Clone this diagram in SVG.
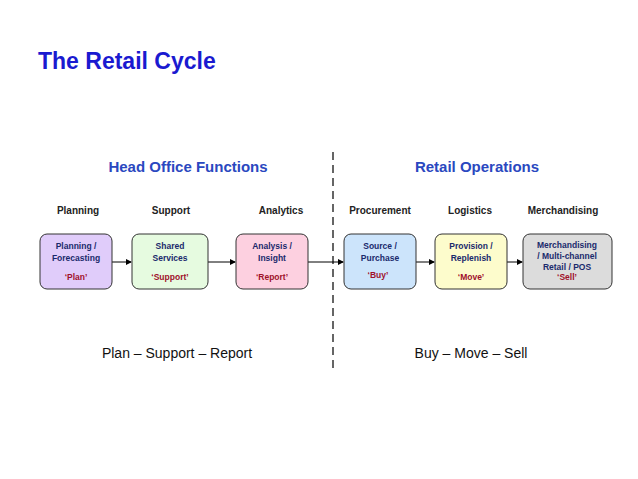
<svg xmlns="http://www.w3.org/2000/svg" width="638" height="479" viewBox="0 0 638 479">
<defs><marker id="a" markerWidth="6" markerHeight="6" refX="5" refY="3" orient="auto"><path d="M0,0 L6,3 L0,6 z" fill="#000"/></marker></defs>
<style>
text{font-family:"Liberation Sans",Arial,sans-serif;text-anchor:middle}
.h{font-size:15px;font-weight:bold;fill:#2a48c0}
.c{font-size:10px;font-weight:bold;fill:#222}
.b{font-size:8.5px;font-weight:bold;fill:#1a2a6c}
.q{font-size:8.5px;font-weight:bold;fill:#a0102a}
.n rect{stroke:#333;stroke-width:1}
.s{font-size:14px;fill:#111}
</style>
<rect width="638" height="479" fill="#fff"/>
<text x="38" y="69" style="text-anchor:start;font-size:23px;font-weight:bold;fill:#1a1ad0">The Retail Cycle</text>
<text class="h" x="188" y="172">Head Office Functions</text>
<text class="h" x="477" y="172">Retail Operations</text>
<text class="c" x="78" y="214">Planning</text>
<text class="c" x="171" y="214">Support</text>
<text class="c" x="281" y="214">Analytics</text>
<text class="c" x="380" y="214">Procurement</text>
<text class="c" x="470" y="214">Logistics</text>
<text class="c" x="563" y="214">Merchandising</text>
<line x1="333" y1="152" x2="333" y2="370" stroke="#333" stroke-width="1.5" stroke-dasharray="8,5"/>
<g id="connectors" stroke="#000" stroke-width="1" marker-end="url(#a)">
<line x1="112" y1="262" x2="131" y2="262"/>
<line x1="208" y1="262" x2="235" y2="262"/>
<line x1="308" y1="262" x2="343" y2="262"/>
<line x1="416" y1="262" x2="434" y2="262"/>
<line x1="507" y1="262" x2="522" y2="262"/>
</g>
<g id="n1" class="n"><rect x="40" y="234" width="72" height="55" rx="7" fill="#e0ccfa"/><text class="b" x="76" y="249">Planning /</text><text class="b" x="76" y="261">Forecasting</text><text class="q" x="76" y="280">‘Plan’</text></g>
<g id="n2" class="n"><rect x="132" y="234" width="76" height="55" rx="7" fill="#e6fbe0"/><text class="b" x="170" y="249">Shared</text><text class="b" x="170" y="261">Services</text><text class="q" x="170" y="280">‘Support’</text></g>
<g id="n3" class="n"><rect x="236" y="234" width="72" height="55" rx="7" fill="#fdd0e0"/><text class="b" x="272" y="249">Analysis /</text><text class="b" x="272" y="261">Insight</text><text class="q" x="272" y="280">‘Report’</text></g>
<g id="n4" class="n"><rect x="344" y="234" width="72" height="55" rx="7" fill="#cce4fb"/><text class="b" x="380" y="249">Source /</text><text class="b" x="380" y="261">Purchase</text><text class="q" x="378" y="278">‘Buy’</text></g>
<g id="n5" class="n"><rect x="435" y="234" width="72" height="55" rx="7" fill="#fdfccc"/><text class="b" x="471" y="249">Provision /</text><text class="b" x="471" y="261">Replenish</text><text class="q" x="471" y="280">‘Move’</text></g>
<g id="n6" class="n"><rect x="523" y="234" width="89" height="55" rx="7" fill="#dcdcdc"/><text class="b" x="567" y="248">Merchandising</text><text class="b" x="567" y="259">/ Multi-channel</text><text class="b" x="567" y="270">Retail / POS</text><text class="q" x="567" y="280">‘Sell’</text></g>
<text class="s" x="177" y="358">Plan – Support – Report</text>
<text class="s" x="471" y="358">Buy – Move – Sell</text>
</svg>
